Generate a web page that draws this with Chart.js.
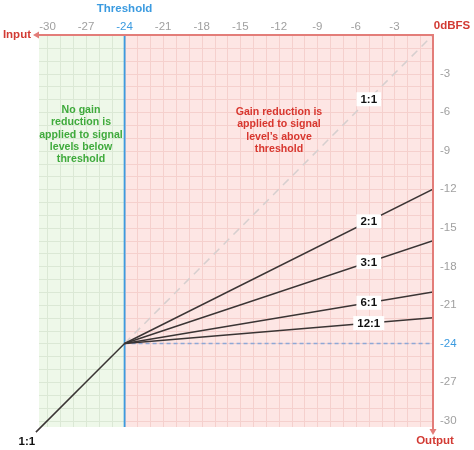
<!DOCTYPE html>
<html>
<head>
<meta charset="utf-8">
<script src="https://cdn.jsdelivr.net/npm/chart.js@4"></script>
<style>
  html, body { margin: 0; padding: 0; background: #ffffff; }
  #wrap { position: relative; width: 474px; height: 450px; }
</style>
</head>
<body>
<div id="wrap"><canvas id="c" width="474" height="450"></canvas></div>
<script>
// ---- data ----
const ratioLabels = ['2:1', '3:1', '6:1', '12:1'];
const ratioValues = [2, 3, 6, 12];
const thresholdDb = -24;
const maxDb = 0;
const lowestInputDb = -30.9;
const xTickValues = [-30, -27, -24, -21, -18, -15, -12, -9, -6, -3];
const yTickValues = [-3, -6, -9, -12, -15, -18, -21, -24, -27, -30];
const labelInputDb = -5;

const FONT = '"Liberation Sans", Arial, Helvetica, sans-serif';
const GREY = '#a0a0a0';
const BLUE = '#3b9be0';
const RED_TXT = '#d23a33';
const RED_AXIS = '#e37d79';

function compressed(ratio, inDb) {
  return thresholdDb + (inDb - thresholdDb) / ratio;
}

const ratioDatasets = ratioValues.map((r, i) => ({
  label: ratioLabels[i],
  data: [{x: thresholdDb, y: thresholdDb}, {x: maxDb, y: compressed(r, maxDb)}],
  borderColor: '#3a3434',
  borderWidth: 1.5,
  order: 1,
  ratio: r
}));

const datasets = [
  {
    label: 'below',
    data: [{x: lowestInputDb, y: lowestInputDb}, {x: thresholdDb, y: thresholdDb}],
    borderColor: '#3a3434', borderWidth: 1.5, clip: false, order: 1
  },
  {
    label: '1:1',
    data: [{x: thresholdDb, y: thresholdDb}, {x: maxDb, y: maxDb}],
    borderColor: '#d6cfcf', borderWidth: 1.5, borderDash: [8, 6], order: 3, ratio: 1
  },
  ...ratioDatasets,
  {
    label: 'limit',
    data: [{x: thresholdDb, y: thresholdDb}, {x: maxDb, y: thresholdDb}],
    borderColor: '#8ea8d6', borderWidth: 1.4, borderDash: [4, 3], order: 2
  },
  {
    label: 'threshold',
    data: [{x: thresholdDb, y: -40}, {x: thresholdDb, y: maxDb}],
    borderColor: BLUE, borderWidth: 1.8, order: 4
  }
];

const bgPlugin = {
  id: 'bg',
  beforeDatasetsDraw(chart) {
    const {ctx, chartArea: a, scales: {x, y}} = chart;
    const tx = x.getPixelForValue(thresholdDb);
    ctx.save();
    ctx.fillStyle = '#eef8e9';
    ctx.fillRect(a.left, a.top, tx - a.left, a.bottom - a.top);
    ctx.fillStyle = '#fde6e4';
    ctx.fillRect(tx, a.top, a.right - tx, a.bottom - a.top);
    // grid every 1 dB
    ctx.lineWidth = 1;
    const gG = '#dbe8d5', gP = '#f5d0cd';
    for (let v = -30; v <= 0; v++) {
      const px = Math.round(x.getPixelForValue(v)) + 0.5;
      ctx.strokeStyle = v < thresholdDb ? gG : gP;
      ctx.beginPath(); ctx.moveTo(px, a.top); ctx.lineTo(px, a.bottom); ctx.stroke();
    }
    for (let v = -30; v <= 0; v++) {
      const py = Math.round(y.getPixelForValue(v)) + 0.5;
      ctx.strokeStyle = gG;
      ctx.beginPath(); ctx.moveTo(a.left, py); ctx.lineTo(tx, py); ctx.stroke();
      ctx.strokeStyle = gP;
      ctx.beginPath(); ctx.moveTo(tx, py); ctx.lineTo(a.right, py); ctx.stroke();
    }
    ctx.restore();
  },
  afterDatasetsDraw(chart) {
    const {ctx, chartArea: a, scales: {x, y}} = chart;
    ctx.save();
    // red axes with arrows
    ctx.strokeStyle = RED_AXIS;
    ctx.fillStyle = RED_AXIS;
    ctx.lineWidth = 2;
    ctx.beginPath();
    ctx.moveTo(36, a.top); ctx.lineTo(a.right, a.top); ctx.lineTo(a.right, a.bottom + 5);
    ctx.stroke();
    ctx.beginPath();
    ctx.moveTo(33, a.top); ctx.lineTo(39, a.top - 3.5); ctx.lineTo(39, a.top + 3.5); ctx.closePath(); ctx.fill();
    ctx.beginPath();
    ctx.moveTo(a.right, a.bottom + 8); ctx.lineTo(a.right - 3.5, a.bottom + 2); ctx.lineTo(a.right + 3.5, a.bottom + 2); ctx.closePath(); ctx.fill();

    // axis titles
    ctx.font = 'bold 11.5px ' + FONT;
    ctx.fillStyle = RED_TXT;
    ctx.textBaseline = 'middle';
    ctx.textAlign = 'right';
    ctx.fillText('Input', 31, a.top);
    ctx.textAlign = 'center';
    ctx.fillText('0dBFS', 452, 26);
    ctx.fillText('Output', a.right + 2, 441);
    ctx.fillStyle = BLUE;
    ctx.fillText('Threshold', x.getPixelForValue(thresholdDb), 9);

    // region annotations
    ctx.font = 'bold 10.6px ' + FONT;
    ctx.fillStyle = '#3faa3c';
    const g = ['No gain', 'reduction is', 'applied to signal', 'levels below', 'threshold'];
    g.forEach((t, i) => ctx.fillText(t, 81, 110 + i * 12.3));
    ctx.fillStyle = '#d8372f';
    const r = ['Gain reduction is', 'applied to signal', 'level\u2019s above', 'threshold'];
    r.forEach((t, i) => ctx.fillText(t, 279, 112 + i * 12.3));

    // ratio labels on the lines
    ctx.font = 'bold 11.5px ' + FONT;
    chart.data.datasets.forEach(ds => {
      if (!ds.ratio) return;
      const px = x.getPixelForValue(labelInputDb);
      const py = y.getPixelForValue(compressed(ds.ratio, labelInputDb));
      const w = ctx.measureText(ds.label).width + 8;
      ctx.fillStyle = '#ffffff';
      ctx.fillRect(px - w / 2, py - 7, w, 14);
      ctx.fillStyle = '#111111';
      ctx.fillText(ds.label, px, py + 0.5);
    });
    const ex = x.getPixelForValue(lowestInputDb);
    const ey = y.getPixelForValue(lowestInputDb);
    ctx.fillStyle = '#111111';
    ctx.fillText('1:1', ex - 9, ey + 10);
    ctx.restore();
  }
};

new Chart(document.getElementById('c'), {
  type: 'scatter',
  data: { datasets: datasets.map(d => Object.assign({showLine: true, pointRadius: 0, pointHoverRadius: 0, fill: false}, d)) },
  options: {
    responsive: false,
    animation: false,
    events: [],
    layout: { padding: { left: 39, top: 0, right: 0, bottom: 23 } },
    plugins: { legend: { display: false }, tooltip: { enabled: false } },
    scales: {
      x: {
        type: 'linear', position: 'top', min: -30.66, max: 0,
        afterBuildTicks: s => { s.ticks = xTickValues.map(v => ({value: v})); },
        afterFit: s => { s.height = 35; },
        grid: { display: false, drawTicks: false },
        border: { display: false },
        ticks: {
          padding: 1,
          font: { family: FONT, size: 11.5 },
          color: c => c.tick && c.tick.value === thresholdDb ? BLUE : GREY,
          maxRotation: 0, autoSkip: false,
          callback: v => String(v)
        }
      },
      y: {
        type: 'linear', position: 'right', min: -30.5, max: 0,
        afterBuildTicks: s => { s.ticks = yTickValues.map(v => ({value: v})); },
        afterFit: s => { s.width = 41; },
        grid: { display: false, drawTicks: false },
        border: { display: false },
        ticks: {
          padding: 7,
          font: { family: FONT, size: 11.5 },
          color: c => c.tick && c.tick.value === thresholdDb ? BLUE : GREY,
          autoSkip: false,
          callback: v => String(v)
        }
      }
    }
  },
  plugins: [bgPlugin]
});
</script>
</body>
</html>
